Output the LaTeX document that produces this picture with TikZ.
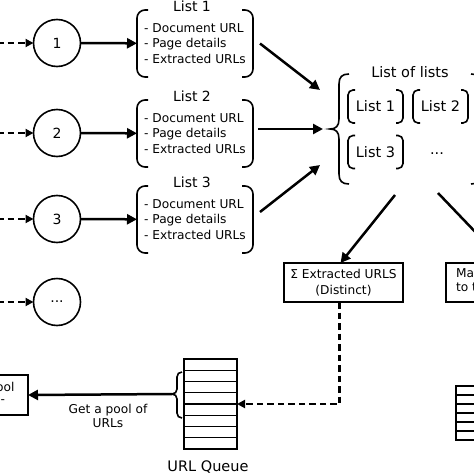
\documentclass[tikz,border=0pt]{standalone}
\usepackage{fontspec}
\setmainfont{DejaVu Sans}
\usetikzlibrary{arrows.meta,calc}
\begin{document}
\begin{tikzpicture}[x=1pt,y=-1pt,
  every node/.style={inner sep=0pt, outer sep=0pt},
  circ/.style={circle, draw, line width=1.6pt, minimum size=47pt, font=\fontsize{14}{17}\selectfont},
  listbox/.style={minimum width=116pt, minimum height=67pt, align=left, font=\fontsize{12.2}{15.5}\selectfont},
  ttl/.style={font=\fontsize{14}{17}\selectfont},
  bigt/.style={font=\fontsize{14.5}{17}\selectfont},
  smallt/.style={font=\fontsize{12.2}{14}\selectfont, align=center},
  boxn/.style={draw, line width=1.6pt, minimum width=119pt, minimum height=39pt, align=center, font=\fontsize{12.2}{16}\selectfont},
  arr/.style={line width=2.5pt, -{Triangle[length=10pt,width=10pt]}},
  darr/.style={line width=2.5pt, dash pattern=on 6.5pt off 4pt, -{Triangle[length=8pt,width=8pt]}},
  brk/.style={line width=1.6pt, rounded corners=8pt},
  sbrk/.style={line width=1.6pt, rounded corners=5pt},
  brc/.style={line width=1.6pt},
  qline/.style={line width=1.3pt},
]
\useasboundingbox (0,0) rectangle (474,474);
\clip (0,0) rectangle (474,474);

% circles
\node[circ] (c1) at (57,43) {1};
\node[circ] (c2) at (57,133) {2};
\node[circ] (c3) at (57,219) {3};
\node[circ] (c4) at (57,302) {...};
\coordinate (in1) at (-3,43);
\coordinate (in2) at (-3,133);
\coordinate (in3) at (-3,219);
\coordinate (in4) at (-3,302);
\foreach \i in {1,2,3,4} \draw[darr] (in\i) -- (c\i);

% lists
\node[listbox] (l1) at (195,43.5) {- Document URL\\- Page details\\- Extracted URLs};
\node[listbox] (l2) at (195,133.5) {- Document URL\\- Page details\\- Extracted URLs};
\node[listbox] (l3) at (195,219.5) {- Document URL\\- Page details\\- Extracted URLs};
\foreach \i in {1,2,3} {
  \draw[brk] ([xshift=11pt]l\i.north west) -- (l\i.north west) -- (l\i.south west) -- ([xshift=11pt]l\i.south west);
  \draw[brk] ([xshift=-11pt]l\i.north east) -- (l\i.north east) -- (l\i.south east) -- ([xshift=-11pt]l\i.south east);
  \node[ttl] (t\i) at ($(l\i.north)+(-3,-4)$) {List \i};
  \draw[arr] (c\i) -- (l\i);
}

% list of lists
\node[minimum width=144pt, minimum height=110pt] (lol) at (402,129) {};
\node[bigt] (lolt) at (410,72) {List of lists};
\draw[brc] (349,74) .. controls (342,74) and (339,77) .. (339,84) -- (339,119) .. controls (339,126) and (336,129) .. (330,129) .. controls (336,129) and (339,132) .. (339,139) -- (339,174) .. controls (339,181) and (342,184) .. (349,184);
\draw[brc] (471,74) .. controls (478,74) and (481,77) .. (481,84) -- (481,119) .. controls (481,126) and (484,129) .. (490,129) .. controls (484,129) and (481,132) .. (481,139) -- (481,174) .. controls (481,181) and (478,184) .. (471,184);
\node[minimum width=55pt, minimum height=33pt, font=\fontsize{14.5}{17}\selectfont] (il1) at (375.5,106.5) {List 1};
\node[minimum width=55pt, minimum height=33pt, font=\fontsize{14.5}{17}\selectfont] (il2) at (440.5,106.5) {List 2};
\node[minimum width=55pt, minimum height=33pt, font=\fontsize{14.5}{17}\selectfont] (il3) at (375.5,152) {List 3};
\node[bigt] (ild) at (437,154) {...};
\foreach \n in {il1,il2,il3} {
  \draw[sbrk] ([xshift=7pt]\n.north west) -- (\n.north west) -- (\n.south west) -- ([xshift=7pt]\n.south west);
  \draw[sbrk] ([xshift=-7pt]\n.north east) -- (\n.north east) -- (\n.south east) -- ([xshift=-7pt]\n.south east);
}
\draw[arr] ([xshift=7pt]l1.east) -- ($(lol.west)+(-10,-39)$);
\draw[arr] ([xshift=5pt,yshift=4.5pt]l2.east) -- ([xshift=-7pt]lol.west);
\draw[arr] ([xshift=7pt,yshift=7.5pt]l3.east) -- ($(lol.west)+(-10,36)$);

% sigma box and right box
\node[boxn] (sig) at (343.5,282.5) {Σ Extracted URLS\\(Distinct)};
\node[draw, line width=1.6pt, minimum width=118pt, minimum height=39pt] (ma) at (505,282.5) {};
\node[anchor=west, align=left, font=\fontsize{12.2}{14}\selectfont] (mat) at (456,280) {Ma\\to t};
\draw[arr] ($(lol.south)+(-7,11)$) -- ([xshift=-3pt]sig.north);
\draw[arr] ($(lol.south)+(36,9)$) -- (ma.north);

% URL queue
\node[draw, line width=1.6pt, minimum width=53pt, minimum height=90pt] (q) at (210.5,404) {};
\foreach \i in {1,...,7} \draw[qline] ($(q.north west)!\i/8!(q.south west)$) -- ($(q.north east)!\i/8!(q.south east)$);
\node[bigt] (qt) at (208,467) {URL Queue};
\draw[darr] ([xshift=-4pt]sig.south) |- (q.east);

% small brace
\draw[brc] (182,372) .. controls (179,372) and (177,374) .. (177,377) -- (177,389) .. controls (177,392) and (175,394) .. (172,394) .. controls (175,394) and (177,396) .. (177,399) -- (177,413) .. controls (177,416) and (179,418) .. (182,418);
\coordinate (qb) at (172,394);

% pool box
\node[draw, line width=1.6pt, minimum width=100pt, minimum height=40pt] (pool) at (-22,395) {};
\node[anchor=east, font=\fontsize{12.2}{14}\selectfont] (poolt1) at (14.5,388) {pool};
\node[anchor=east, font=\fontsize{12.2}{14}\selectfont] (poolt2) at (5,402) {-};
\draw[arr] (qb) -- (pool.east);
\node[smallt] (getl) at (108,416) {Get a pool of\\URLs};

% right queue
\node[draw, line width=1.6pt, minimum width=54pt, minimum height=54pt] (q2) at (483,413) {};
\foreach \i in {1,...,5} \draw[qline] ($(q2.north west)!\i/6!(q2.south west)$) -- ($(q2.north east)!\i/6!(q2.south east)$);
\end{tikzpicture}
\end{document}
